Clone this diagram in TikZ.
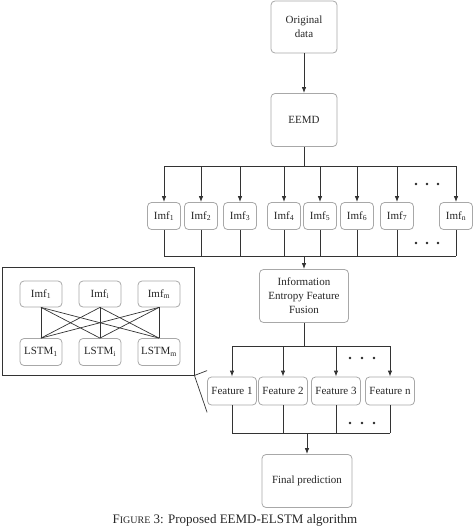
\documentclass[tikz,border=0pt]{standalone}
\usepackage{fontspec}
\setmainfont{Liberation Serif}
\usetikzlibrary{arrows.meta,calc}
\definecolor{boxgray}{HTML}{A8A8A8}
\definecolor{linegray}{HTML}{333333}
\tikzset{
  blk/.style={draw=boxgray, rounded corners=4pt, line width=0.8pt, align=center,
    inner sep=0pt, text=black!85, font=\fontsize{11}{14}\selectfont},
  imfbox/.style={blk, minimum width=33pt, minimum height=27pt},
  featbox/.style={blk, minimum width=49pt, minimum height=28pt},
  smallbox/.style={blk, minimum width=42pt, minimum height=26pt},
  wire/.style={draw=linegray, line width=0.9pt},
  arr/.style={wire, -{Latex[length=6pt,width=4.5pt]}},
  dot/.style={fill=black!85},
}
\begin{document}
\begin{tikzpicture}[x=1pt,y=-1pt]
\useasboundingbox (0,0) rectangle (474,527);

% main column
\node[blk, minimum width=66pt, minimum height=52pt] (orig) at (304,27) {Original\\data};
\node[blk, minimum width=66pt, minimum height=53pt] (eemd) at (304,120) {EEMD};
\draw[arr] (orig) -- (eemd);

% imf row
\foreach \x/\s [count=\i] in {164/1,201/2,240/3,284/4,320/5,357/6,397/7,456/n} {
  \coordinate (ta\i) at (\x,166);
  \coordinate (tb\i) at (\x,256);
  \node[imfbox] (imf\i) at (\x,216) {Imf\textsubscript{\s}};
  \draw[arr] (ta\i) -- (imf\i);
  \draw[wire] (imf\i) -- (tb\i);
}
\draw[wire] (ta1) -- (ta8);
\draw[wire] (tb1) -- (tb8);
\draw[wire] (eemd) -- (eemd |- ta1);
\foreach \x in {416,427,438} {
  \fill[dot] (\x,184) circle (1.4pt);
  \fill[dot] (\x,243) circle (1.4pt);
}

\node[blk, minimum width=89pt, minimum height=53pt] (fuse) at (304,296)
  {Information\\Entropy Feature\\Fusion};
\draw[arr] (eemd |- tb1) -- (fuse);

% feature row
\foreach \x/\s [count=\i] in {232/1,283/2,336/3,390/n} {
  \coordinate (fa\i) at (\x,346);
  \coordinate (fb\i) at (\x,433);
  \node[featbox] (feat\i) at (\x,391) {Feature \s};
  \draw[arr] (fa\i) -- (feat\i);
  \draw[wire] (feat\i) -- (fb\i);
}
\draw[wire] (fa1) -- (fa4);
\draw[wire] (fb1) -- (fb4);
\draw[wire] (fuse) -- (fuse |- fa1);
\foreach \x in {350,362,374} {
  \fill[dot] (\x,358) circle (1.4pt);
  \fill[dot] (\x,423) circle (1.4pt);
}

\node[blk, minimum width=90pt, minimum height=53pt] (final) at (307,481) {Final prediction};
\draw[arr] (final |- fb1) -- (final);

% detail of the lstm stage
\node[draw=linegray, line width=0.9pt, minimum width=192pt, minimum height=108pt,
  inner sep=0pt] (detail) at (98,321) {};
\foreach \x/\s [count=\i] in {41/1,100/i,159/m} {
  \node[smallbox] (im\i) at (\x,294) {Imf\textsubscript{\s}};
  \node[smallbox, minimum height=27pt] (ls\i) at (\x,352) {LSTM\textsubscript{\s}};
}
\foreach \a in {1,2,3}
  \foreach \b in {1,2,3}
    \draw[wire, line width=0.7pt] (im\a.south) -- (ls\b.north);
\draw[wire, line width=0.7pt] (detail.south east) -- ($(feat1.north west)+(0,-6)$);
\draw[wire, line width=0.7pt] (detail.south east) -- ($(feat1.south west)+(0,7)$);

% caption
\node[anchor=base, font=\fontsize{13}{15}\selectfont, text=black!85] (cap) at (235,523)
  {F{\fontsize{10}{12}\selectfont IGURE} 3: Proposed EEMD-ELSTM algorithm};
\end{tikzpicture}
\end{document}
